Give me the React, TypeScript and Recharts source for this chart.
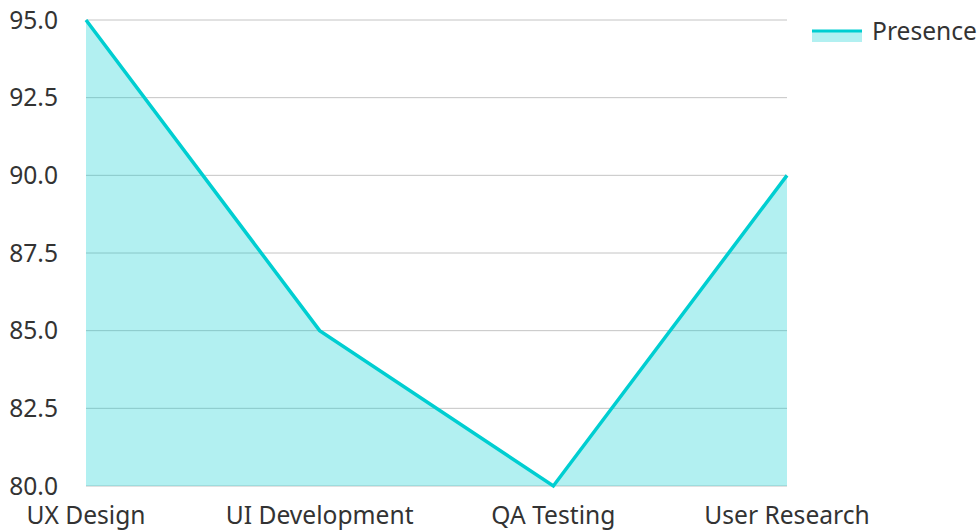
import { AreaChart, Area, XAxis, YAxis, CartesianGrid, Legend } from "recharts";

const categories = ["UX Design", "UI Development", "QA Testing", "User Research"];
const presence = [95, 85, 80, 90];
const yTicks = [80, 82.5, 85, 87.5, 90, 92.5, 95];

const data = categories.map((name, i) => ({ name, presence: presence[i] }));

const COLOR = "#00CED1";
const FONT = "'Noto Sans', sans-serif";
const FS = 24.6;

const LegendBox = () => (
  <div style={{ display: "flex", alignItems: "center", fontFamily: FONT, fontSize: FS, color: "#333" }}>
    <svg width={50} height={24} style={{ marginRight: 10 }}>
      <rect x={0} y={12} width={50} height={11} fill={COLOR} fillOpacity={0.3} />
      <line x1={0} x2={50} y1={12} y2={12} stroke={COLOR} strokeWidth={3} />
    </svg>
    <span>Presence</span>
  </div>
);

export default function App() {
  return (
    <div style={{ position: "absolute", left: 0, top: 0, width: 979, height: 531, background: "#fff" }}>
      <AreaChart width={979} height={531} data={data} margin={{ top: 20, right: 192, bottom: 0, left: 0 }}>
        <CartesianGrid stroke="#c4c4c4" vertical={false} />
        <XAxis
          dataKey="name"
          axisLine={false}
          tickLine={false}
          height={45}
          tickMargin={15}
          interval={0}
          tick={{ fill: "#333", fontSize: FS, fontFamily: FONT }}
        />
        <YAxis
          domain={[80, 95]}
          ticks={yTicks}
          tickFormatter={(v: number) => v.toFixed(1)}
          axisLine={false}
          tickLine={false}
          width={86}
          tickMargin={22}
          tick={{ fill: "#333", fontSize: FS, fontFamily: FONT }}
        />
        <Legend
          verticalAlign="middle"
          align="center"
          layout="horizontal"
          content={() => <LegendBox />}
          wrapperStyle={{ top: 14, left: 812, width: 170 }}
        />
        <Area
          type="linear"
          dataKey="presence"
          name="Presence"
          stroke={COLOR}
          strokeWidth={3.5}
          fill={COLOR}
          fillOpacity={0.3}
          dot={false}
          activeDot={false}
          isAnimationActive={false}
        />
      </AreaChart>
    </div>
  );
}
